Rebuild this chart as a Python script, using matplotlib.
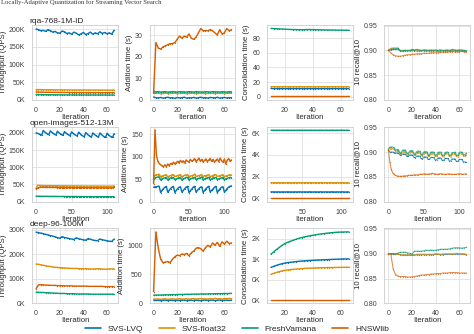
import matplotlib
matplotlib.use("Agg")
import matplotlib.pyplot as plt
import seaborn as sns
from matplotlib.ticker import FuncFormatter
from matplotlib.lines import Line2D

methods = ["SVS-LVQ", "SVS-float32", "FreshVamana", "HNSWlib"]
colors = ["#0173b2", "#de8f05", "#029e73", "#d55e00"]
datasets = ["rqa-768-1M-ID", "open-images-512-13M", "deep-96-100M"]

# iterations (every 2nd iteration)
iters_rqa = list(range(0, 67, 2))
iters_oi = list(range(0, 111, 2))
iters_deep = list(range(0, 67, 2))
cons_iters_rqa = list(range(10, 67, 2))
cons_iters_oi = list(range(10, 111, 2))
cons_iters_deep = list(range(10, 67, 2))

# ---------------- rqa-768-1M-ID ----------------
# throughput in K QPS
tp_rqa_lvq = [201, 199, 196, 197, 194, 199, 196, 192, 194, 190, 189, 195, 193, 188, 190, 186, 192,
              189, 184, 187, 191, 185, 188, 192, 186, 190, 187, 193, 188, 191, 187, 190, 186, 197]
tp_rqa_f32 = [29, 29, 28.8, 28.7, 28.6, 28.5, 28.5, 28.4, 28.3, 28.3, 28.2, 28.2, 28.1, 28.1, 28.0, 28.0, 28.0,
              27.9, 27.9, 27.9, 27.8, 27.8, 27.8, 27.8, 27.7, 27.7, 27.7, 27.7, 27.7, 27.6, 27.6, 27.6, 27.6, 28.0]
tp_rqa_fv = [15.0, 14.8, 14.7, 14.6, 14.5, 14.5, 14.4, 14.4, 14.3, 14.3, 14.2, 14.2, 14.2, 14.1, 14.1, 14.1, 14.0,
             14.0, 14.0, 14.0, 13.9, 13.9, 13.9, 13.9, 13.9, 13.8, 13.8, 13.8, 13.8, 13.8, 13.8, 13.7, 13.7, 13.9]
tp_rqa_hnsw = [22.5, 22.0, 21.8, 21.6, 21.5, 21.4, 21.3, 21.2, 21.2, 21.1, 21.0, 21.0, 20.9, 20.9, 20.8, 20.8, 20.7,
               20.7, 20.6, 20.6, 20.6, 20.5, 20.5, 20.5, 20.4, 20.4, 20.4, 20.4, 20.3, 20.3, 20.3, 20.3, 20.2, 20.5]

add_rqa_lvq = [1.3, 1.0, 0.9, 1.1, 0.8, 1.0, 1.2, 0.9, 1.0, 0.7, 1.1, 0.9, 1.0, 1.2, 0.8, 1.0, 0.9,
               1.1, 0.8, 1.0, 1.2, 0.9, 1.0, 0.8, 1.1, 1.0, 0.9, 1.2, 0.8, 1.0, 1.1, 0.9, 1.0, 1.0]
add_rqa_f32 = [3.3, 3.0, 3.1, 2.9, 3.0, 3.1, 2.9, 3.0, 3.0, 3.1, 2.9, 3.0, 3.1, 3.0, 2.9, 3.0, 3.1,
               3.0, 2.9, 3.0, 3.0, 3.1, 2.9, 3.0, 3.1, 3.0, 2.9, 3.0, 3.0, 3.1, 2.9, 3.0, 3.1, 3.0]
add_rqa_fv = [3.9, 3.7, 3.8, 3.6, 3.7, 3.8, 3.6, 3.7, 3.8, 3.7, 3.6, 3.8, 3.7, 3.7, 3.6, 3.8, 3.7,
              3.6, 3.8, 3.7, 3.7, 3.6, 3.8, 3.7, 3.6, 3.8, 3.7, 3.7, 3.6, 3.8, 3.7, 3.6, 3.8, 3.7]
add_rqa_hnsw = [3, 26.5, 24, 23.5, 24.5, 25, 25.5, 26, 26, 26.5, 28, 29.5, 28.5, 29.5, 29, 30.5, 28.5,
                28, 29, 31, 33, 32, 32, 32, 32.5, 32, 31, 30, 32.5, 30.5, 31, 33, 32, 32.5]

cons_rqa_lvq = [11.2, 11.0, 11.1, 10.9, 11.0, 11.1, 10.9, 11.0, 11.0, 10.9, 11.1, 11.0, 10.9, 11.0, 11.1,
                10.9, 11.0, 11.0, 10.9, 11.1, 11.0, 10.9, 11.0, 11.1, 10.9, 11.0, 11.0, 10.9, 11.0]
cons_rqa_f32 = [13.8, 13.6, 13.7, 13.5, 13.6, 13.7, 13.5, 13.6, 13.6, 13.5, 13.7, 13.6, 13.5, 13.6, 13.7,
                13.5, 13.6, 13.6, 13.5, 13.7, 13.6, 13.5, 13.6, 13.7, 13.5, 13.6, 13.6, 13.5, 13.6]
cons_rqa_fv = [93.5, 93.3, 93.1, 92.9, 92.7, 92.5, 92.3, 92.1, 92.0, 91.9, 91.8, 91.8, 91.9, 92.0, 92.0,
               91.9, 91.8, 91.7, 91.6, 91.5, 91.4, 91.4, 91.3, 91.3, 91.2, 91.2, 91.1, 91.1, 91.0]
cons_rqa_hnsw = [0.3, 0.3, 0.3, 0.3, 0.3, 0.3, 0.3, 0.3, 0.3, 0.3, 0.3, 0.3, 0.3, 0.3, 0.3,
                 0.3, 0.3, 0.3, 0.3, 0.3, 0.3, 0.3, 0.3, 0.3, 0.3, 0.3, 0.3, 0.3, 0.3]

rec_rqa_lvq = [0.900, 0.901, 0.902, 0.902, 0.902, 0.899, 0.898, 0.899, 0.899, 0.899, 0.900, 0.899, 0.899,
               0.899, 0.899, 0.899, 0.899, 0.899, 0.899, 0.899, 0.899, 0.898, 0.899, 0.899, 0.899, 0.899,
               0.898, 0.899, 0.899, 0.899, 0.899, 0.899, 0.898, 0.898]
rec_rqa_f32 = [0.900, 0.904, 0.905, 0.905, 0.905, 0.900, 0.900, 0.900, 0.899, 0.899, 0.899, 0.900, 0.899,
               0.899, 0.899, 0.900, 0.899, 0.899, 0.899, 0.900, 0.899, 0.899, 0.899, 0.899, 0.900, 0.899,
               0.899, 0.899, 0.900, 0.899, 0.899, 0.899, 0.899, 0.898]
rec_rqa_fv = [0.900, 0.902, 0.903, 0.903, 0.904, 0.899, 0.899, 0.900, 0.900, 0.900, 0.902, 0.901, 0.902,
              0.901, 0.900, 0.901, 0.901, 0.900, 0.901, 0.900, 0.901, 0.900, 0.901, 0.900, 0.900, 0.901,
              0.900, 0.902, 0.901, 0.900, 0.901, 0.901, 0.900, 0.899]
rec_rqa_hnsw = [0.900, 0.895, 0.891, 0.889, 0.888, 0.888, 0.889, 0.890, 0.891, 0.891, 0.892, 0.892, 0.893,
                0.893, 0.893, 0.894, 0.894, 0.894, 0.895, 0.895, 0.895, 0.895, 0.896, 0.896, 0.896, 0.896,
                0.897, 0.897, 0.897, 0.897, 0.897, 0.898, 0.897, 0.897]

# ---------------- open-images-512-13M ----------------
tp_oi_lvq = [200, 199, 197, 195, 194, 207, 203, 200, 197, 195, 206, 202, 199, 196, 194,
             205, 201, 198, 195, 193, 204, 200, 197, 194, 192, 203, 199, 196, 193, 191,
             202, 198, 194, 191, 189, 201, 197, 193, 190, 188, 200, 196, 193, 190, 188,
             200, 196, 192, 189, 187, 199, 195, 191, 189, 187, 198]
tp_oi_f32 = [38, 47, 47, 46.8, 46.6, 46.5, 46.5, 46.4, 46.3, 46.3, 46.2, 46.2, 46.1, 46.1, 46.0,
             46.0, 46.0, 45.9, 45.9, 45.8, 45.8, 45.8, 45.7, 45.7, 45.6, 45.6, 45.6, 45.5, 45.5, 45.5,
             45.4, 45.4, 45.4, 45.3, 45.3, 45.3, 45.2, 45.2, 45.2, 45.1, 45.1, 45.1, 45.0, 45.0, 45.0,
             45.0, 44.9, 44.9, 44.9, 44.8, 44.8, 44.8, 44.8, 44.7, 44.7, 46.0]
tp_oi_fv = [15.8, 15.6, 15.5, 15.4, 15.3, 15.3, 15.2, 15.2, 15.1, 15.1, 15.0, 15.0, 15.0, 14.9, 14.9,
            14.9, 14.8, 14.8, 14.8, 14.8, 14.7, 14.7, 14.7, 14.7, 14.6, 14.6, 14.6, 14.6, 14.6, 14.5,
            14.5, 14.5, 14.5, 14.5, 14.4, 14.4, 14.4, 14.4, 14.4, 14.4, 14.3, 14.3, 14.3, 14.3, 14.3,
            14.3, 14.2, 14.2, 14.2, 14.2, 14.2, 14.2, 14.1, 14.1, 14.1, 14.5]
tp_oi_hnsw = [37, 39, 41, 41.5, 41.5, 41.4, 41.3, 41.3, 41.2, 41.2, 41.1, 41.1, 41.0, 41.0, 41.0,
              40.9, 40.9, 40.9, 40.8, 40.8, 40.8, 40.7, 40.7, 40.7, 40.6, 40.6, 40.6, 40.5, 40.5, 40.5,
              40.5, 40.4, 40.4, 40.4, 40.4, 40.3, 40.3, 40.3, 40.3, 40.2, 40.2, 40.2, 40.2, 40.1, 40.1,
              40.1, 40.1, 40.0, 40.0, 40.0, 40.0, 40.0, 39.9, 39.9, 39.9, 42.0]

add_oi_lvq = [32, 33, 33, 34, 34, 20, 25, 29, 32, 34, 21, 25, 29, 32, 34,
              20, 25, 29, 32, 33, 21, 25, 29, 32, 34, 20, 24, 28, 32, 34,
              21, 25, 29, 32, 33, 20, 25, 29, 32, 34, 21, 25, 28, 32, 34,
              20, 25, 29, 32, 33, 21, 25, 29, 32, 34, 35]
add_oi_f32 = [57, 59, 60, 60, 61, 55, 57, 58, 59, 60, 55, 57, 58, 60, 60,
              56, 57, 58, 59, 60, 55, 57, 59, 59, 60, 55, 57, 58, 59, 61,
              56, 57, 58, 59, 60, 55, 58, 58, 59, 60, 55, 57, 58, 60, 60,
              56, 57, 58, 59, 60, 55, 57, 58, 59, 60, 59]
add_oi_fv = [50, 53, 54, 55, 55, 48, 51, 52, 53, 54, 48, 51, 53, 53, 54,
             49, 51, 52, 53, 54, 48, 51, 52, 54, 54, 48, 51, 52, 53, 54,
             49, 51, 52, 53, 55, 48, 51, 52, 53, 54, 48, 51, 53, 53, 54,
             49, 51, 52, 53, 54, 48, 51, 52, 53, 54, 53]
add_oi_hnsw = [40, 160, 105, 90, 85, 82, 80, 78, 82, 78, 84, 80, 85, 83, 88,
               84, 87, 90, 86, 92, 88, 91, 86, 93, 90, 88, 94, 90, 92, 96,
               89, 93, 97, 90, 94, 88, 92, 95, 89, 93, 96, 90, 94, 88, 92,
               95, 89, 97, 91, 88, 95, 84, 92, 96, 90, 93]

cons_oi_lvq = [610, 600, 605, 595, 600, 610, 590, 600, 605, 595, 600, 610, 595, 600, 590,
               605, 600, 595, 610, 600, 590, 600, 605, 595, 600, 610, 600, 590, 605, 600,
               595, 600, 610, 600, 590, 605, 600, 595, 600, 610, 600, 590, 605, 600, 595,
               600, 610, 600, 590, 605, 600]
cons_oi_f32 = [1450, 1440, 1445, 1435, 1440, 1450, 1430, 1440, 1445, 1435, 1440, 1450, 1435, 1440, 1430,
               1445, 1440, 1435, 1450, 1440, 1430, 1440, 1445, 1435, 1440, 1450, 1440, 1430, 1445, 1440,
               1435, 1440, 1450, 1440, 1430, 1445, 1440, 1435, 1440, 1450, 1440, 1430, 1445, 1440, 1435,
               1440, 1450, 1440, 1430, 1445, 1440]
cons_oi_fv = [6260, 6250, 6255, 6245, 6250, 6260, 6240, 6250, 6255, 6245, 6250, 6260, 6245, 6250, 6240,
              6255, 6250, 6245, 6260, 6250, 6240, 6250, 6255, 6245, 6250, 6260, 6250, 6240, 6255, 6250,
              6245, 6250, 6260, 6250, 6240, 6255, 6250, 6245, 6250, 6260, 6250, 6240, 6255, 6250, 6245,
              6250, 6260, 6250, 6240, 6255, 6250]
cons_oi_hnsw = [30, 30, 30, 30, 30, 30, 30, 30, 30, 30, 30, 30, 30, 30, 30,
                30, 30, 30, 30, 30, 30, 30, 30, 30, 30, 30, 30, 30, 30, 30,
                30, 30, 30, 30, 30, 30, 30, 30, 30, 30, 30, 30, 30, 30, 30,
                30, 30, 30, 30, 30, 30]

rec_oi_lvq = [0.905, 0.900, 0.900, 0.900, 0.899, 0.898, 0.898, 0.898, 0.894, 0.894,
              0.896, 0.896, 0.896, 0.891, 0.891, 0.894, 0.894, 0.894, 0.889, 0.888,
              0.892, 0.892, 0.892, 0.887, 0.886, 0.890, 0.890, 0.890, 0.885, 0.885,
              0.889, 0.889, 0.889, 0.884, 0.884, 0.888, 0.888, 0.888, 0.883, 0.883,
              0.887, 0.887, 0.887, 0.882, 0.882, 0.886, 0.886, 0.886, 0.881, 0.881,
              0.885, 0.885, 0.885, 0.880, 0.880, 0.879]
rec_oi_f32 = [0.905, 0.907, 0.907, 0.907, 0.906, 0.901, 0.902, 0.902, 0.896, 0.896,
              0.901, 0.901, 0.901, 0.895, 0.894, 0.899, 0.900, 0.900, 0.894, 0.893,
              0.898, 0.899, 0.899, 0.893, 0.892, 0.897, 0.898, 0.898, 0.892, 0.891,
              0.897, 0.897, 0.897, 0.891, 0.891, 0.896, 0.897, 0.897, 0.891, 0.890,
              0.896, 0.897, 0.897, 0.891, 0.890, 0.896, 0.896, 0.897, 0.891, 0.890,
              0.896, 0.897, 0.897, 0.892, 0.891, 0.895]
rec_oi_fv = [0.905, 0.910, 0.910, 0.910, 0.909, 0.904, 0.905, 0.905, 0.899, 0.899,
             0.904, 0.904, 0.904, 0.898, 0.897, 0.902, 0.903, 0.903, 0.897, 0.896,
             0.901, 0.902, 0.902, 0.896, 0.895, 0.900, 0.901, 0.901, 0.895, 0.894,
             0.900, 0.900, 0.900, 0.894, 0.894, 0.899, 0.900, 0.900, 0.894, 0.893,
             0.899, 0.900, 0.900, 0.894, 0.893, 0.899, 0.899, 0.900, 0.894, 0.893,
             0.899, 0.900, 0.900, 0.895, 0.894, 0.898]
rec_oi_hnsw = [0.905, 0.880, 0.865, 0.858, 0.855, 0.853, 0.852, 0.851, 0.851, 0.851,
               0.851, 0.852, 0.852, 0.852, 0.853, 0.853, 0.853, 0.853, 0.854, 0.854,
               0.854, 0.854, 0.855, 0.855, 0.855, 0.856, 0.856, 0.855, 0.855, 0.856,
               0.856, 0.857, 0.856, 0.856, 0.855, 0.855, 0.856, 0.856, 0.856, 0.855,
               0.855, 0.855, 0.856, 0.856, 0.855, 0.855, 0.855, 0.855, 0.855, 0.856,
               0.856, 0.856, 0.855, 0.855, 0.856, 0.856]

# ---------------- deep-96-100M ----------------
tp_deep_lvq = [290, 288, 286, 284, 281, 279, 276, 274, 271, 268, 265, 272, 268, 266, 264, 262, 260,
               267, 263, 261, 259, 257, 264, 261, 258, 256, 255, 262, 259, 257, 255, 253, 252, 262]
tp_deep_f32 = [160, 159, 157, 155, 153, 151, 150, 148, 147, 146, 145, 145, 144, 143, 143, 142, 142,
               142, 141, 141, 141, 141, 140, 140, 140, 140, 141, 140, 140, 139, 139, 140, 140, 140]
tp_deep_fv = [45, 45, 44, 44, 43, 43, 42, 42, 41, 41, 40, 40, 40, 39, 39, 39, 39,
              38, 38, 38, 38, 38, 38, 37, 37, 37, 37, 37, 37, 37, 37, 37, 37, 37]
tp_deep_hnsw = [60, 75, 76, 75, 74, 74, 73, 73, 73, 72, 72, 72, 71, 71, 71, 71, 70,
                70, 70, 70, 70, 70, 69, 69, 69, 69, 69, 69, 69, 68, 68, 68, 68, 68]

add_deep_lvq = [55, 48, 52, 45, 50, 54, 46, 51, 49, 44, 53, 47, 50, 56, 45, 49, 52,
                46, 55, 48, 44, 51, 57, 47, 50, 53, 46, 49, 58, 45, 52, 55, 48, 54]
add_deep_f32 = [70, 72, 75, 68, 74, 77, 71, 73, 78, 70, 74, 79, 72, 75, 80, 73, 76,
                81, 74, 77, 82, 75, 78, 73, 80, 76, 83, 77, 79, 74, 81, 78, 84, 80]
add_deep_fv = [140, 141, 143, 142, 144, 146, 145, 147, 149, 148, 150, 152, 151, 153, 155, 154, 156,
               157, 158, 157, 160, 161, 160, 162, 164, 163, 165, 166, 165, 167, 168, 167, 169, 170]
add_deep_hnsw = [200, 1230, 950, 760, 700, 710, 720, 700, 760, 800, 830, 820, 850, 840, 860, 820, 870,
                 900, 950, 960, 940, 900, 960, 1000, 970, 1040, 1000, 1050, 980, 1060, 1020, 1070, 1030, 1040]

cons_deep_lvq = [800, 825, 850, 870, 890, 905, 915, 925, 933, 940, 947, 953, 958, 963, 967,
                 971, 975, 979, 982, 985, 988, 991, 994, 997, 1000, 1002, 1004, 1006, 1008]
cons_deep_f32 = [630, 655, 678, 698, 715, 728, 738, 746, 753, 759, 765, 770, 774, 778, 781,
                 784, 787, 789, 791, 793, 795, 796, 797, 798, 799, 800, 801, 802, 803]
cons_deep_fv = [1120, 1180, 1235, 1285, 1335, 1380, 1410, 1435, 1460, 1485, 1505, 1525, 1540, 1555, 1568,
                1580, 1592, 1603, 1613, 1622, 1630, 1638, 1645, 1650, 1655, 1658, 1660, 1662, 1663]
cons_deep_hnsw = [10, 10, 10, 10, 10, 10, 10, 10, 10, 10, 10, 10, 10, 10, 10,
                  10, 10, 10, 10, 10, 10, 10, 10, 10, 10, 10, 10, 10, 10]

rec_deep_lvq = [0.900, 0.900, 0.900, 0.899, 0.899, 0.898, 0.897, 0.897, 0.897, 0.897, 0.897, 0.897,
                0.898, 0.898, 0.898, 0.898, 0.898, 0.898, 0.898, 0.898, 0.899, 0.899, 0.898, 0.898,
                0.899, 0.899, 0.899, 0.899, 0.899, 0.900, 0.899, 0.899, 0.899, 0.898]
rec_deep_f32 = [0.900, 0.900, 0.900, 0.899, 0.899, 0.898, 0.898, 0.898, 0.898, 0.898, 0.898, 0.898,
                0.899, 0.899, 0.899, 0.899, 0.899, 0.899, 0.899, 0.899, 0.900, 0.900, 0.899, 0.900,
                0.900, 0.900, 0.900, 0.900, 0.900, 0.901, 0.900, 0.900, 0.900, 0.899]
rec_deep_fv = [0.900, 0.900, 0.900, 0.900, 0.901, 0.903, 0.903, 0.903, 0.902, 0.901, 0.899, 0.905,
               0.905, 0.905, 0.905, 0.906, 0.907, 0.907, 0.907, 0.907, 0.907, 0.908, 0.909, 0.909,
               0.909, 0.909, 0.910, 0.911, 0.912, 0.912, 0.912, 0.911, 0.912, 0.913]
rec_deep_hnsw = [0.900, 0.900, 0.870, 0.858, 0.855, 0.854, 0.854, 0.854, 0.853, 0.853, 0.853, 0.854,
                 0.855, 0.856, 0.857, 0.857, 0.858, 0.858, 0.859, 0.859, 0.860, 0.860, 0.860, 0.861,
                 0.861, 0.861, 0.862, 0.862, 0.862, 0.862, 0.861, 0.861, 0.861, 0.861]

rows = [
    dict(x=iters_rqa, xc=cons_iters_rqa,
         tp=[tp_rqa_lvq, tp_rqa_f32, tp_rqa_fv, tp_rqa_hnsw],
         add=[add_rqa_lvq, add_rqa_f32, add_rqa_fv, add_rqa_hnsw],
         cons=[cons_rqa_lvq, cons_rqa_f32, cons_rqa_fv, cons_rqa_hnsw],
         rec=[rec_rqa_lvq, rec_rqa_f32, rec_rqa_fv, rec_rqa_hnsw],
         xt=[0, 20, 40, 60], xtc=[20, 40, 60],
         tp_t=[0, 50, 100, 150, 200], tp_top=212,
         add_t=[0, 10, 20, 30], cons_t=[0, 20, 40, 60, 80], cons_k=False),
    dict(x=iters_oi, xc=cons_iters_oi,
         tp=[tp_oi_lvq, tp_oi_f32, tp_oi_fv, tp_oi_hnsw],
         add=[add_oi_lvq, add_oi_f32, add_oi_fv, add_oi_hnsw],
         cons=[cons_oi_lvq, cons_oi_f32, cons_oi_fv, cons_oi_hnsw],
         rec=[rec_oi_lvq, rec_oi_f32, rec_oi_fv, rec_oi_hnsw],
         xt=[0, 50, 100], xtc=[50, 100],
         tp_t=[0, 50, 100, 150, 200], tp_top=218,
         add_t=[0, 50, 100, 150], cons_t=[0, 2000, 4000, 6000], cons_k=True),
    dict(x=iters_deep, xc=cons_iters_deep,
         tp=[tp_deep_lvq, tp_deep_f32, tp_deep_fv, tp_deep_hnsw],
         add=[add_deep_lvq, add_deep_f32, add_deep_fv, add_deep_hnsw],
         cons=[cons_deep_lvq, cons_deep_f32, cons_deep_fv, cons_deep_hnsw],
         rec=[rec_deep_lvq, rec_deep_f32, rec_deep_fv, rec_deep_hnsw],
         xt=[0, 20, 40, 60], xtc=[20, 40, 60],
         tp_t=[0, 100, 200, 300], tp_top=305,
         add_t=[0, 500, 1000], cons_t=[0, 500, 1000, 1500], cons_k=True),
]

sns.set_style("whitegrid")
plt.rcParams["font.family"] = ["Liberation Sans", "DejaVu Sans"]

fig = plt.figure(figsize=(4.74, 3.34), dpi=100)
axes = fig.subplots(3, 4)
fig.subplots_adjust(left=0.068, right=0.992, top=0.925, bottom=0.092, wspace=0.37, hspace=0.36)

kq = FuncFormatter(lambda v, p: f"{v:.0f}K")
ks = FuncFormatter(lambda v, p: f"{v / 1000:.0f}K")


def draw(ax, x, series, recall=False):
    for vals, c in zip(series, colors):
        ax.plot(x, vals, color=c, lw=0.8 if recall else 1.0, alpha=0.7 if recall else 1.0,
                marker=".", ms=1.8, mew=0)


LBL = 5.6
TCK = 5.0

for r, row in enumerate(rows):
    a_tp, a_add, a_cons, a_rec = axes[r]
    draw(a_tp, row["x"], row["tp"])
    draw(a_add, row["x"], row["add"])
    draw(a_cons, row["xc"], row["cons"])
    draw(a_rec, row["x"], row["rec"], recall=True)

    a_tp.set_ylim(0, row["tp_top"])
    a_tp.set_yticks(row["tp_t"])
    a_tp.yaxis.set_major_formatter(kq)
    a_add.set_ylim(bottom=0)
    a_add.set_yticks(row["add_t"])
    a_cons.set_yticks(row["cons_t"])
    if row["cons_k"]:
        a_cons.yaxis.set_major_formatter(ks)
    a_rec.set_ylim(0.80, 0.951)
    a_rec.set_yticks([0.80, 0.85, 0.90, 0.95])

    for ax in (a_tp, a_add, a_rec):
        ax.set_xticks(row["xt"])
    a_cons.set_xticks(row["xtc"])

    a_tp.set_ylabel("Throughput (QPS)", fontsize=LBL, labelpad=1)
    a_add.set_ylabel("Addition time (s)", fontsize=LBL, labelpad=1.5)
    a_cons.set_ylabel("Consolidation time (s)", fontsize=LBL, labelpad=1.5)
    a_rec.set_ylabel("10 recall@10", fontsize=LBL, labelpad=1.5)
    a_tp.set_title(datasets[r], loc="left", fontsize=6, pad=1.5, x=-0.03)

    for ax in axes[r]:
        ax.set_xlabel("Iteration", fontsize=LBL, labelpad=0)
        ax.tick_params(labelsize=TCK, pad=1.5, colors=".25")
        ax.grid(color=".88", lw=0.6)
        for s in ax.spines.values():
            s.set_color(".8")
            s.set_linewidth(0.6)

handles = [Line2D([], [], color=c, lw=1.2) for c in colors]
fig.legend(handles, methods, loc="lower center", ncol=4, frameon=False, fontsize=6,
           bbox_to_anchor=(0.5, -0.02), handlelength=1.9, columnspacing=1.9, handletextpad=0.8)

fig.text(0.003, 0.992, "Locally-Adaptive Quantization for Streaming Vector Search",
         fontsize=4.8, family="Liberation Serif", va="center", ha="left", color=".2")

fig.savefig("out.png", dpi=100)
